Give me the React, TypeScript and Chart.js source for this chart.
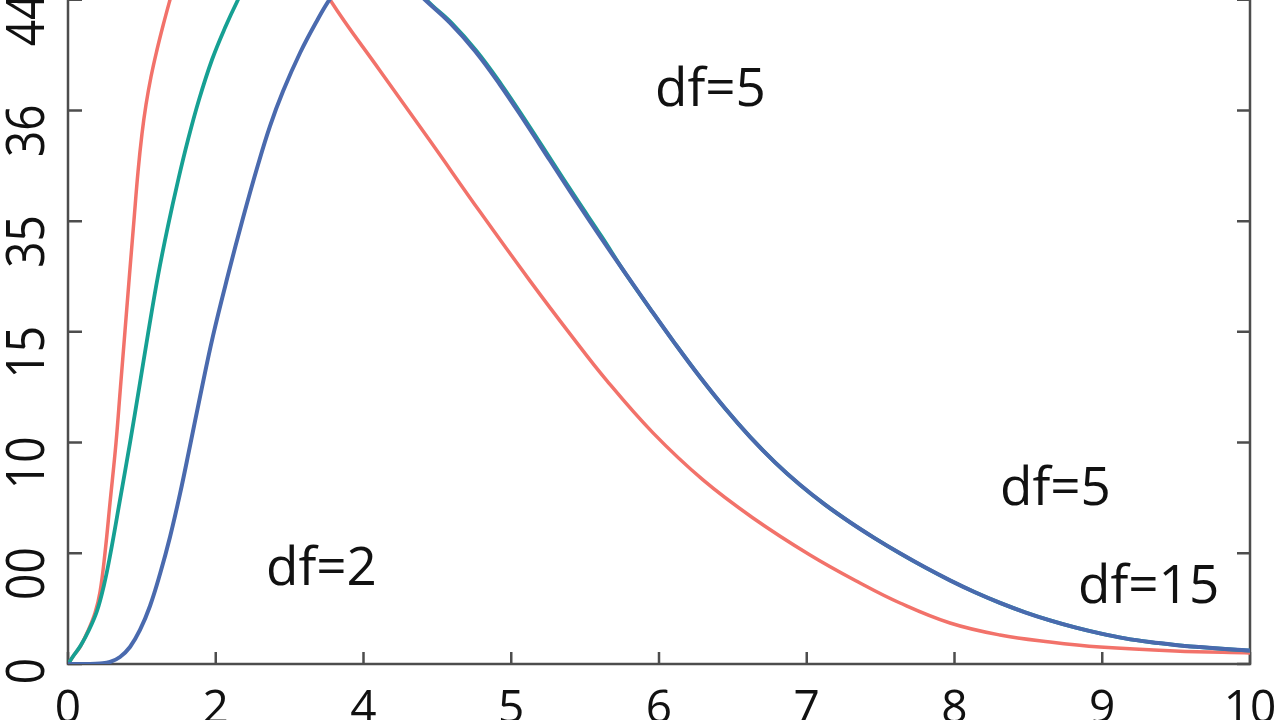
import React, { useEffect, useRef } from "react";
import { Chart, registerables } from "chart.js";

Chart.register(...registerables);

// Axis ticks (positions in axis units) and their printed labels
const xTickValues = [0, 1, 2, 3, 4, 5, 6, 7, 8];
const xTickLabels = ["0", "2", "4", "5", "6", "7", "8", "9", "10"];
const yTickValues = [0, 1, 2, 3, 4, 5, 6];
const yTickLabels = ["0", "00", "10", "15", "35", "36", "44"];

// Red curve (df=2)
const redX = [0, 0.0406, 0.0812, 0.1286, 0.1827, 0.2166, 0.2504, 0.2843, 0.3249, 0.3553, 0.3858, 0.4162, 0.4467, 0.4738, 0.5008, 0.5279, 0.5618, 0.6024, 0.643, 0.6904, 0.7377, 0.7986, 0.8934, 1.1641, 1.4687, 1.6379, 1.7733, 2.1117, 2.4501, 2.7885, 3.1269, 3.3976, 3.6481, 3.9594, 4.2978, 4.6362, 5.022, 5.3604, 5.6311, 5.9695, 6.3079, 6.6464, 6.9848, 7.4924, 8.0];
const redY = [0, 0.0813, 0.1536, 0.2801, 0.4608, 0.6506, 1.003, 1.4548, 1.9969, 2.503, 3.009, 3.515, 4.012, 4.4456, 4.789, 5.0511, 5.304, 5.548, 5.765, 6.0, 6.2257, 6.4489, 6.6323, 6.6956, 6.585, 6.3432, 6.0, 5.3583, 4.7258, 4.0842, 3.4607, 2.9818, 2.5572, 2.0873, 1.6626, 1.3192, 0.9849, 0.7319, 0.5512, 0.3705, 0.262, 0.1988, 0.1536, 0.1175, 0.0994];

// Teal curve (df=5)
const tealX = [0, 0.0406, 0.088, 0.1421, 0.1963, 0.2437, 0.2843, 0.3519, 0.4196, 0.4805, 0.5415, 0.6091, 0.6768, 0.7445, 0.8122, 0.8866, 0.9746, 1.0626, 1.1506, 1.2318, 1.3333, 1.4687, 1.6379, 1.8409, 2.044, 2.2132, 2.3147, 2.3824, 2.4264, 2.5956, 2.7649, 2.9341, 3.1033, 3.2725, 3.4417, 3.6109, 3.7699, 3.9391, 4.1083, 4.2775, 4.4467, 4.6159, 4.7851, 4.9543, 5.1235, 5.2927, 5.4619, 5.6311, 5.8003, 5.9695, 6.1387, 6.3079, 6.4772, 6.6464, 6.8156, 6.9848, 7.154, 7.3232, 7.4924, 7.6616, 7.8308, 8.0];
const tealY = [0, 0.0813, 0.1717, 0.3072, 0.4789, 0.7138, 0.9759, 1.4819, 1.9969, 2.4849, 2.9818, 3.5059, 3.9577, 4.3643, 4.7348, 5.0962, 5.4577, 5.7468, 6.0, 6.2077, 6.4245, 6.5962, 6.6866, 6.7047, 6.6504, 6.4697, 6.2529, 6.0993, 6.0, 5.7911, 5.5372, 5.2318, 4.8956, 4.5477, 4.2008, 3.8628, 3.5339, 3.2104, 2.8942, 2.5915, 2.3096, 2.052, 1.8216, 1.6183, 1.4394, 1.2804, 1.1349, 0.9994, 0.8729, 0.7554, 0.6479, 0.5521, 0.4672, 0.394, 0.3307, 0.2765, 0.2313, 0.1979, 0.1726, 0.1527, 0.1355, 0.1211];

// Blue curve (df=15)
const blueX = [0, 0.1489, 0.2166, 0.2843, 0.3519, 0.4196, 0.4873, 0.555, 0.6227, 0.6904, 0.758, 0.8257, 0.8934, 0.9814, 1.0829, 1.1844, 1.286, 1.3672, 1.4552, 1.5702, 1.6853, 1.7733, 1.8748, 2.0102, 2.1455, 2.2809, 2.4162, 2.5854, 2.7547, 2.9239, 3.0931, 3.2623, 3.4315, 3.6007, 3.7699, 3.9391, 4.1083, 4.2775, 4.4467, 4.6159, 4.7851, 4.9543, 5.1235, 5.2927, 5.4619, 5.6311, 5.8003, 5.9695, 6.1387, 6.3079, 6.4772, 6.6464, 6.8156, 6.9848, 7.154, 7.3232, 7.4924, 7.6616, 7.8308, 8.0];
const blueY = [0, 0, 0.0045, 0.0181, 0.0633, 0.1536, 0.3072, 0.5241, 0.8132, 1.1476, 1.5361, 1.9698, 2.4126, 2.9638, 3.5127, 4.0277, 4.5089, 4.8586, 5.173, 5.5187, 5.8105, 6.0072, 6.1807, 6.2709, 6.289, 6.1807, 6.0, 5.7911, 5.5372, 5.2318, 4.8956, 4.5477, 4.2008, 3.8628, 3.5339, 3.2104, 2.8942, 2.5915, 2.3096, 2.052, 1.8216, 1.6183, 1.4394, 1.2804, 1.1349, 0.9994, 0.8729, 0.7554, 0.6479, 0.5521, 0.4672, 0.394, 0.3307, 0.2765, 0.2313, 0.1979, 0.1726, 0.1527, 0.1355, 0.1211];

// Text annotations placed in axis units
const noteTexts = ["df=5", "df=5", "df=2", "df=15"];
const noteX = [3.973, 6.308, 1.34, 6.836];
const noteY = [5.042, 1.437, 0.714, 0.551];

const FONT = "'Open Sans', 'DejaVu Sans', sans-serif";
const INK = "#111111";
const AXIS = "#4d4d4d";

function toPoints(xs: number[], ys: number[]) {
  return xs.map((x, i) => ({ x, y: ys[i] }));
}

function zeroPadding(s: any) {
  s.paddingTop = 0;
  s.paddingBottom = 0;
  s.paddingLeft = 0;
  s.paddingRight = 0;
}

const framePlugin = {
  id: "frame",
  beforeDatasetsDraw(chart: any) {
    const { ctx, chartArea } = chart;
    const xs = chart.scales.x;
    const ys = chart.scales.y;
    ctx.save();
    ctx.strokeStyle = AXIS;
    ctx.lineWidth = 2.5;
    ctx.strokeRect(chartArea.left, chartArea.top, chartArea.right - chartArea.left, chartArea.bottom - chartArea.top);
    ctx.beginPath();
    xTickValues.forEach((v) => {
      const px = xs.getPixelForValue(v);
      ctx.moveTo(px, chartArea.bottom);
      ctx.lineTo(px, chartArea.bottom - 12);
    });
    yTickValues.forEach((v) => {
      const py = ys.getPixelForValue(v);
      ctx.moveTo(chartArea.left, py);
      ctx.lineTo(chartArea.left + 14, py);
      ctx.moveTo(chartArea.right, py);
      ctx.lineTo(chartArea.right - 13, py);
    });
    ctx.stroke();

    // rotated y tick labels, reading bottom to top, ending just above each tick
    ctx.fillStyle = INK;
    ctx.font = `46px ${FONT}`;
    ctx.textAlign = "right";
    ctx.textBaseline = "middle";
    yTickValues.forEach((v, i) => {
      const py = ys.getPixelForValue(v);
      ctx.save();
      ctx.translate(chartArea.left - 39, py - 6);
      ctx.rotate(-Math.PI / 2);
      ctx.scale(1, 1.15);
      ctx.fillText(yTickLabels[i], 0, 0);
      ctx.restore();
    });
    ctx.restore();
  },
  afterDatasetsDraw(chart: any) {
    const { ctx } = chart;
    const xs = chart.scales.x;
    const ys = chart.scales.y;
    ctx.save();
    ctx.fillStyle = INK;
    ctx.font = `53px ${FONT}`;
    ctx.textAlign = "left";
    ctx.textBaseline = "alphabetic";
    noteTexts.forEach((t, i) => {
      ctx.fillText(t, xs.getPixelForValue(noteX[i]), ys.getPixelForValue(noteY[i]));
    });
    ctx.restore();
  },
};

export default function App() {
  const ref = useRef<HTMLCanvasElement | null>(null);

  useEffect(() => {
    if (!ref.current) return;
    const common = {
      pointRadius: 0,
      tension: 0.4,
      fill: false,
    };
    const chart = new Chart(ref.current, {
      type: "line",
      data: {
        datasets: [
          { label: "df=15", data: toPoints(blueX, blueY), borderColor: "#4a6aae", borderWidth: 4, ...common },
          { label: "df=5", data: toPoints(tealX, tealY), borderColor: "#16a093", borderWidth: 3.8, ...common },
          { label: "df=2", data: toPoints(redX, redY), borderColor: "#f2726a", borderWidth: 3.5, ...common },
        ],
      },
      options: {
        animation: false,
        responsive: false,
        devicePixelRatio: 1,
        layout: { padding: { left: 0, right: 30, top: 0, bottom: 0 } },
        plugins: { legend: { display: false }, tooltip: { enabled: false } },
        scales: {
          x: {
            type: "linear",
            min: 0,
            max: 8,
            afterBuildTicks: (s: any) => {
              s.ticks = xTickValues.map((v) => ({ value: v }));
            },
            afterFit: (s: any) => {
              s.height = 56;
              zeroPadding(s);
            },
            grid: { display: false, drawTicks: false },
            border: { display: false },
            ticks: {
              autoSkip: false,
              maxRotation: 0,
              minRotation: 0,
              padding: 18,
              color: INK,
              font: { family: FONT, size: 46 },
              callback: (_v: any, i: number) => xTickLabels[i],
            },
          },
          y: {
            type: "linear",
            min: 0,
            max: 6.72,
            afterBuildTicks: (s: any) => {
              s.ticks = yTickValues.map((v) => ({ value: v }));
            },
            afterFit: (s: any) => {
              s.width = 68;
              zeroPadding(s);
            },
            grid: { display: false, drawTicks: false },
            border: { display: false },
            ticks: { display: false },
          },
        },
      },
      plugins: [framePlugin],
    });
    return () => chart.destroy();
  }, []);

  return (
    <div style={{ position: "fixed", left: 0, top: -80, width: 1280, height: 800, background: "#ffffff" }}>
      <canvas ref={ref} width={1280} height={800} style={{ display: "block" }} />
    </div>
  );
}
